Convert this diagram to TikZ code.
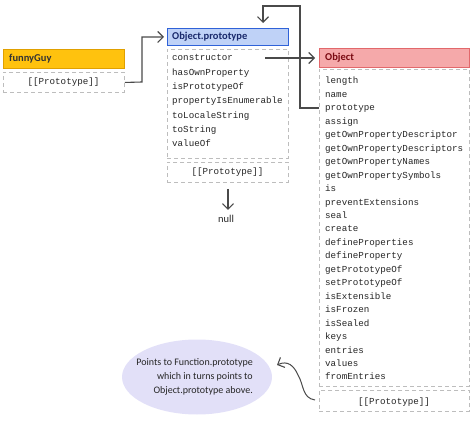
\documentclass[tikz,border=0pt]{standalone}
\usepackage{fontspec}
\setmainfont{Carlito}
\setmonofont{Liberation Mono}
\usetikzlibrary{arrows.meta,shapes.geometric,calc}
\definecolor{fgfill}{HTML}{FFC20E}
\definecolor{fgdraw}{HTML}{E0A000}
\definecolor{opfill}{HTML}{BFD2F7}
\definecolor{opdraw}{HTML}{2F62D8}
\definecolor{optext}{HTML}{1A2A6C}
\definecolor{obfill}{HTML}{F5A9AA}
\definecolor{obdraw}{HTML}{E2686B}
\definecolor{obtext}{HTML}{7A0A12}
\definecolor{dashgray}{HTML}{BDBDBD}
\definecolor{linegray}{HTML}{4A4A4A}
\definecolor{bubble}{HTML}{E2E0F8}
\tikzset{
  hdr/.style={draw, line width=1pt, inner sep=0pt, anchor=north west},
  htext/.style={anchor=base west, inner sep=0pt, font=\bfseries\fontsize{10.5}{12}\selectfont},
  dbox/.style={draw=dashgray, dashed, dash pattern=on 4pt off 3pt, line width=0.9pt, fill=white, inner sep=0pt, anchor=north west},
  mono/.style={font=\ttfamily\fontsize{9.2}{11}\selectfont, text=black!85, anchor=base west, inner sep=0pt},
  conn/.style={draw=linegray, line width=1.1pt, -{Straight Barb[length=5.5pt,width=11pt,line width=1.1pt]}},
}
\begin{document}
\begin{tikzpicture}[x=1pt,y=-1pt]
\useasboundingbox (0,0) rectangle (474,422);
% funnyGuy
\node[hdr, draw=fgdraw, fill=fgfill, minimum width=121pt, minimum height=19pt] (fg) at (3,49) {};
\node[htext, text=black!80] (fgt) at (9,62) {funnyGuy};
\node[dbox, minimum width=121pt, minimum height=20pt] (fgp) at (3,72) {};
\node[mono, anchor=base] (fgpt) at (63.5,85) {[[Prototype]]};
% Object.prototype
\node[hdr, draw=opdraw, fill=opfill, minimum width=121pt, minimum height=17pt] (oph) at (167,28) {};
\node[htext, text=optext] (opht) at (172,40) {Object.prototype};
\node[dbox, minimum width=121pt, minimum height=109pt] (opb) at (167,49) {};
\foreach \t [count=\i from 0] in {constructor,hasOwnProperty,isPrototypeOf,propertyIsEnumerable,toLocaleString,toString,valueOf}{
  \node[mono] (op\i) at (172,{61+14.3*\i}) {\t};
}
\node[dbox, minimum width=121pt, minimum height=20pt] (opp) at (167,162) {};
\node[mono, anchor=base] (oppt) at (227.5,175) {[[Prototype]]};
\node[inner sep=0pt, anchor=base, font=\fontsize{10.5}{12}\selectfont, text=black!85] (null) at (226,223) {null};
% Object
\node[hdr, draw=obdraw, fill=obfill, minimum width=150pt, minimum height=19pt] (obh) at (319,48) {};
\node[htext, text=obtext] (obht) at (325,61) {Object};
\node[dbox, minimum width=150pt, minimum height=317pt] (obb) at (319,69) {};
\foreach \t [count=\i from 0] in {length,name,prototype,assign,getOwnPropertyDescriptor,getOwnPropertyDescriptors,getOwnPropertyNames,getOwnPropertySymbols,is,preventExtensions,seal,create,defineProperties,defineProperty,getPrototypeOf,setPrototypeOf,isExtensible,isFrozen,isSealed,keys,entries,values,fromEntries}{
  \node[mono] (ob\i) at (325,{84+13.45*\i}) {\t};
}
\node[dbox, minimum width=150pt, minimum height=21pt] (obp) at (319,390) {};
\node[mono, anchor=base] (obpt) at (394,404) {[[Prototype]]};
% bubble
\node[ellipse, fill=bubble, minimum width=150pt, minimum height=75pt, inner sep=0pt] (bub) at (197,377) {};
\node[align=right, inner sep=0pt, anchor=east, font=\fontsize{10}{14}\selectfont, text=black!85] (bubt) at (253,377) {Points to Function.prototype\\which in turns points to\\Object.prototype above.};
% connectors
\coordinate (c1) at (142,82);
\draw[conn, shorten >=3pt] (fgp.east) -- (c1) |- (oph.west);
\coordinate (c2) at (265,58);
\draw[conn, shorten >=4pt] (c2) -- (obh.west |- c2);
\coordinate (c3) at (319,108);
\coordinate (c4) at (300,6);
\coordinate (c5) at (263,6);
\draw[conn, shorten >=5pt] (c3) -| (c4) -- (c5) -- (c5 |- oph.north);
\draw[conn] ($(opp.south)+(0,6)$) -- ($(opp.south)+(0,27)$);
\coordinate (c6) at (315,400);
\draw[conn, line width=1pt] (c6) .. controls (302,398) and (304,385) .. (298,375) .. controls (294,366) and (288,360) .. (277,365);
\end{tikzpicture}
\end{document}
